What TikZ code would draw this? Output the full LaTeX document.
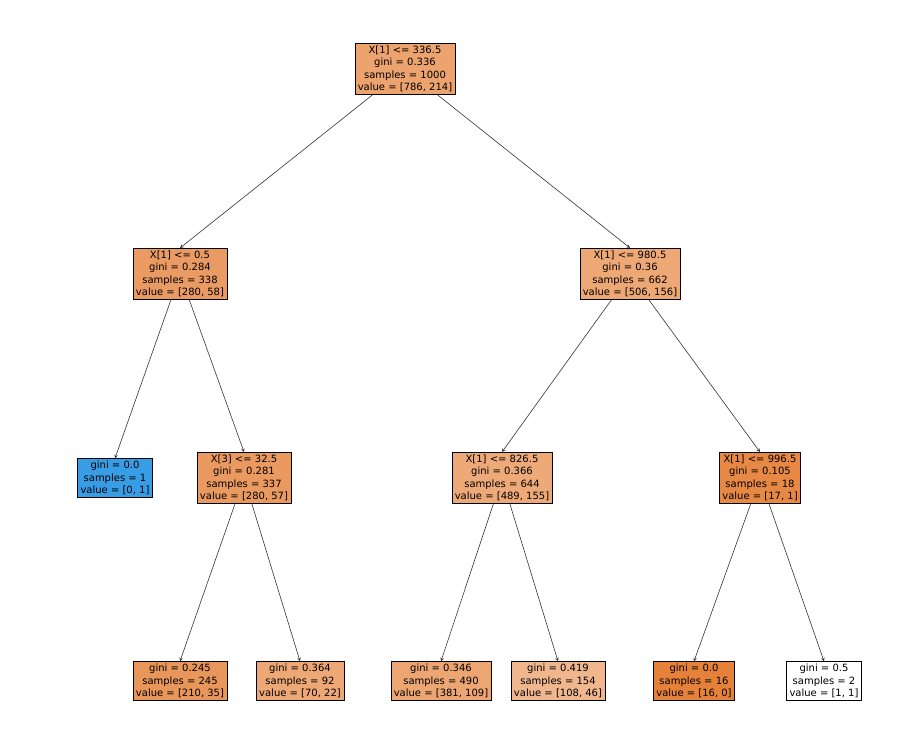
\documentclass[tikz,border=0pt]{standalone}
\usepackage{fontspec}
\setmainfont{DejaVu Sans}
\begin{document}
\begin{tikzpicture}[x=1pt,y=-1pt,
  n/.style={draw=black,line width=0.6pt,align=center,font=\fontsize{10}{12.5}\selectfont,inner xsep=3pt,inner ysep=2.5pt},
  e/.style={->,>=stealth,draw=black!80,line width=0.6pt}]
\definecolor{o}{HTML}{E58139}
\definecolor{b}{HTML}{399DE5}
\useasboundingbox (0,0) rectangle (902,732);
\node[n,fill=o!73] (r) at (405,69) {X[1] <= 336.5\\gini = 0.336\\samples = 1000\\value = [786, 214]};
\node[n,fill=o!79] (l1) at (180,274) {X[1] <= 0.5\\gini = 0.284\\samples = 338\\value = [280, 58]};
\node[n,fill=o!69] (r1) at (630,274) {X[1] <= 980.5\\gini = 0.36\\samples = 662\\value = [506, 156]};
\node[n,fill=b] (la) at (115,478) {gini = 0.0\\samples = 1\\value = [0, 1]};
\node[n,fill=o!80] (lb) at (244,478) {X[3] <= 32.5\\gini = 0.281\\samples = 337\\value = [280, 57]};
\node[n,fill=o!68] (ra) at (502,478) {X[1] <= 826.5\\gini = 0.366\\samples = 644\\value = [489, 155]};
\node[n,fill=o!94] (rb) at (760,478) {X[1] <= 996.5\\gini = 0.105\\samples = 18\\value = [17, 1]};
\node[n,fill=o!83] (c1) at (180,681) {gini = 0.245\\samples = 245\\value = [210, 35]};
\node[n,fill=o!69] (c2) at (300,681) {gini = 0.364\\samples = 92\\value = [70, 22]};
\node[n,fill=o!71] (c3) at (441,681) {gini = 0.346\\samples = 490\\value = [381, 109]};
\node[n,fill=o!57] (c4) at (558,681) {gini = 0.419\\samples = 154\\value = [108, 46]};
\node[n,fill=o] (c5) at (694,681) {gini = 0.0\\samples = 16\\value = [16, 0]};
\node[n,fill=white] (c6) at (824,681) {gini = 0.5\\samples = 2\\value = [1, 1]};
\draw[e] (r) -- (l1.north);
\draw[e] (r) -- (r1.north);
\draw[e] (l1) -- (la.north);
\draw[e] (l1) -- (lb.north);
\draw[e] (r1) -- (ra.north);
\draw[e] (r1) -- (rb.north);
\draw[e] (lb) -- (c1.north);
\draw[e] (lb) -- (c2.north);
\draw[e] (ra) -- (c3.north);
\draw[e] (ra) -- (c4.north);
\draw[e] (rb) -- (c5.north);
\draw[e] (rb) -- (c6.north);
\end{tikzpicture}
\end{document}
